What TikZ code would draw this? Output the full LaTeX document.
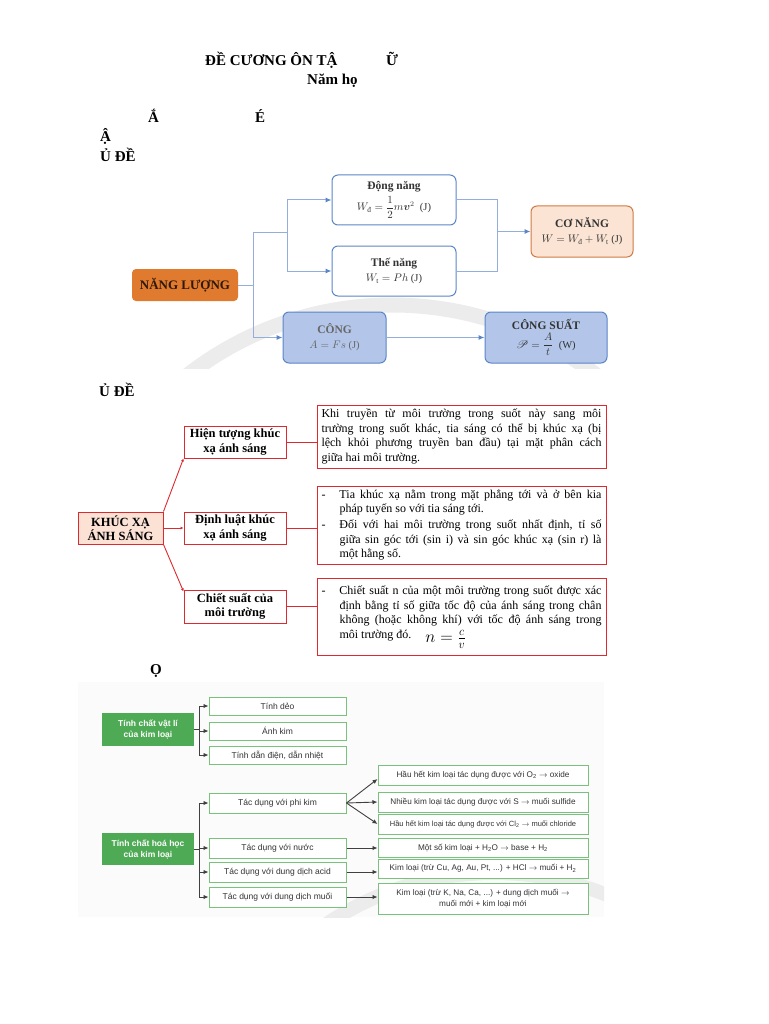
\documentclass[tikz,border=0pt]{standalone}
\usepackage{fontspec}
\setmainfont{Liberation Serif}
\newfontfamily\sansf{Liberation Sans}
\usepackage{amsmath}
\usepackage{mathrsfs}
\usetikzlibrary{arrows.meta}
\definecolor{orgA}{HTML}{E07A2E}
\definecolor{orgB}{HTML}{D27A42}
\definecolor{orgL}{HTML}{FBE4D4}
\definecolor{blB}{HTML}{5A86C8}
\definecolor{blLine}{HTML}{94ADDB}
\definecolor{blF}{HTML}{B3C5E8}
\definecolor{redB}{HTML}{DD2A2F}
\definecolor{pinkF}{HTML}{FBE2D5}
\definecolor{grF}{HTML}{4EAA55}
\definecolor{grB}{HTML}{79C27C}
\definecolor{wm}{HTML}{ECECEC}
\definecolor{txt}{HTML}{333333}
\newcommand\fsz[2]{\fontsize{#1}{#2}\selectfont}
\newcommand\tbset{\hyphenpenalty=10000\exhyphenpenalty=10000\tolerance=10000\emergencystretch=5pt}
\newcommand\bul[1]{\noindent\makebox[18pt][l]{-}\parbox[t]{262pt}{\tbset\strut #1\strut}}
\begin{document}
\begin{tikzpicture}[x=1pt,y=-1pt,
  hdr/.style={inner sep=0pt, anchor=base west, font=\fsz{15}{18}\bfseries},
  nlbox/.style={fill=orgA, rounded corners=4pt, minimum width=106pt, minimum height=32pt, inner sep=0pt, font=\fsz{13}{15}\bfseries, text=black!80!orgA},
  wbox/.style={draw=blB, line width=1pt, fill=white, rounded corners=6pt, minimum width=124pt, minimum height=50pt, align=center, inner sep=1pt, text=txt},
  obox/.style={draw=orgB, line width=1pt, fill=orgL, rounded corners=6pt, minimum width=102pt, minimum height=51pt, align=center, inner sep=1pt, text=txt},
  bbox/.style={draw=blB, line width=1pt, fill=blF, rounded corners=6pt, minimum height=51pt, align=center, inner sep=1pt},
  bline/.style={draw=blLine, line width=1pt},
  barrow/.style={draw=blLine, line width=1pt, -{Latex[length=6pt,width=5pt,color=blB]}},
  rbox/.style={draw=redB, line width=1pt, fill=white, minimum width=102pt, minimum height=32pt, align=center, inner sep=1pt, font=\fsz{12.5}{14.5}\bfseries},
  tbox/.style={draw=redB, line width=1pt, fill=white, text width=280pt, inner xsep=4.5pt, inner ysep=2pt, align=justify, font=\fsz{12}{14.6}},
  rline/.style={draw=redB, line width=0.9pt},
  rarrow/.style={draw=redB, line width=0.9pt, -{Latex[length=3pt,width=3pt]}},
  gfill/.style={fill=grF, minimum width=92pt, minimum height=33pt, align=center, inner sep=0pt, text=white, font=\sansf\fsz{8.5}{11}\bfseries},
  gbox/.style={draw=grB, line width=1pt, fill=white, minimum width=137pt, minimum height=19pt, inner sep=0pt, align=center, text=txt, font=\sansf\fsz{8.5}{10}},
  gbox2/.style={draw=grB, line width=1pt, fill=white, minimum width=210pt, minimum height=20pt, inner sep=0pt, align=center, text=txt, font=\sansf\fsz{8.2}{11}},
  gline/.style={draw=black!75, line width=0.9pt},
  garrow/.style={draw=black!75, line width=0.9pt, -{Latex[length=5pt,width=4.5pt]}}
]
\useasboundingbox (0,0) rectangle (768,1024);
\fill[white] (0,0) rectangle (768,1024);

% ---------- headings ----------
\node[hdr] (h1) at (205,66) {ĐỀ CƯƠNG ÔN TẬ};
\node[hdr] (h2) at (386,66) {Ữ};
\node[hdr] (h3) at (307,85) {Năm họ};
\node[hdr] (h4) at (148,123) {Ắ};
\node[hdr] (h5) at (255,123) {É};
\node[hdr] (h6) at (100,142) {Ậ};
\node[hdr] (h7) at (100,162) {Ủ ĐỀ};
\node[hdr] (h8) at (99,396) {Ủ ĐỀ};
\node[hdr] (h9) at (150,674) {Ọ};

% ---------- section 1 ----------
\begin{scope}
  \clip (120,168) rectangle (640,368);
  \draw[wm, line width=15pt] (392,638) circle[radius=333pt];
\end{scope}

\node[nlbox] (nl) at (185,285) {NĂNG LƯỢNG};
\node[wbox] (dn) at (394,200) {{\fsz{11.5}{13}\bfseries Động năng}\\[3pt]{\fsz{10.5}{12}$W_{\text{đ}}=\dfrac{1}{2}m\boldsymbol{v}^2$ \ (J)}};
\node[wbox] (tn) at (394,271) {{\fsz{11.5}{13}\bfseries Thế năng}\\[3pt]{\fsz{10.5}{12}$W_{\text{t}}=Ph$ (J)}};
\node[obox] (cn) at (582,231.5) {{\fsz{11.5}{13}\bfseries CƠ NĂNG}\\[3pt]{\fsz{10.5}{12}$W=W_{\text{đ}}+W_{\text{t}}$ (J)}};
\node[bbox, minimum width=103pt, text=black!60] (cong) at (334.5,337.5) {{\fsz{11.5}{13}\bfseries CÔNG}\\[3pt]{\fsz{10.5}{12}$A=Fs$ (J)}};
\node[bbox, minimum width=122pt, text=txt] (cs) at (546,337.5) {{\fsz{11.5}{13}\bfseries CÔNG SUẤT}\\[3pt]{\fsz{10.5}{12}$\mathscr{P}=\dfrac{A}{t}$ \ (W)}};

\coordinate (ja) at (253,233);
\coordinate (jb) at (253,337.5);
\coordinate (jc) at (287,233);
\coordinate (jd) at (497,231.5);
\draw[bline] (nl.east) -- (nl.east -| ja);
\draw[bline] (ja) -- (jb);
\draw[bline] (ja) -- (jc);
\draw[barrow] (jc) |- (dn.west);
\draw[barrow] (jc) |- (tn.west);
\draw[barrow] (jb) -- (cong.west);
\draw[bline] (dn.east) -| (jd);
\draw[bline] (tn.east) -| (jd);
\draw[barrow] (jd) -- (cn.west);
\draw[barrow] (cong.east) -- (cs.west);

% ---------- section 2 ----------
\node[rbox, minimum width=85pt, fill=pinkF] (kx) at (120.5,528) {KHÚC XẠ\\ÁNH SÁNG};
\node[rbox] (ht) at (235,442) {Hiện tượng khúc\\xạ ánh sáng};
\node[rbox] (dl) at (235,528) {Định luật khúc\\xạ ánh sáng};
\node[rbox, minimum height=33pt] (cs2) at (235,606.5) {Chiết suất của\\môi trường};

\node[tbox, minimum height=63pt] (tb1) at (461.5,436.5) {\tbset Khi truyền từ môi trường trong suốt này sang môi\linebreak trường trong suốt khác, tia sáng có thể bị khúc xạ (bị\linebreak lệch khỏi phương truyền ban đầu) tại mặt phân cách\linebreak giữa hai môi trường.};
\node[tbox, minimum height=76pt] (tb2) at (461.5,525) {\bul{Tia khúc xạ nằm trong mặt phẳng tới và ở bên kia\linebreak pháp tuyến so với tia sáng tới.}\par
\bul{Đối với hai môi trường trong suốt nhất định, tỉ số\linebreak giữa sin góc tới (sin i) và sin góc khúc xạ (sin r) là\linebreak một hằng số.}};
\node[tbox, minimum height=77pt] (tb3) at (461.5,616.5) {\bul{Chiết suất n của một môi trường trong suốt được xác\linebreak định bằng tỉ số giữa tốc độ của ánh sáng trong chân\linebreak không (hoặc không khí) với tốc độ ánh sáng trong\linebreak môi trường đó.\hspace{14pt}\raisebox{-4pt}{\fsz{17}{17}$n=\frac{c}{v}$}}\par\vspace{9pt}};

\draw[rarrow] (kx.north east) -- (ht.south west);
\draw[rarrow] (kx.east) -- (dl.west);
\draw[rarrow] (kx.south east) -- ([yshift=-2pt]cs2.north west);
\draw[rline] (ht.east) -- (ht.east -| tb1.west);
\draw[rline] (dl.east) -- (dl.east -| tb2.west);
\draw[rline] (cs2.east) -- (cs2.east -| tb3.west);

% ---------- section 3 ----------
\fill[black!1.5] (78,682) rectangle (604,917);
\begin{scope}
  \clip (78,682) rectangle (604,917);
  \draw[wm, line width=14pt] (494,1173) circle[radius=300pt];
\end{scope}

\node[gfill] (vl) at (148,729.5) {Tính chất vật lí\\của kim loại};
\node[gfill, minimum height=32pt] (hh) at (148,849) {Tính chất hoá học\\của kim loại};

\node[gbox, minimum height=18pt] (deo) at (277.5,706) {Tính dẻo};
\node[gbox, minimum height=18pt] (ak) at (277.5,731) {Ánh kim};
\node[gbox, minimum height=18pt] (dan) at (277.5,755) {Tính dẫn điện, dẫn nhiệt};
\node[gbox, minimum height=20pt] (pk) at (277.5,803) {Tác dụng với phi kim};
\node[gbox, minimum height=20pt] (nuoc) at (277.5,848) {Tác dụng với nước};
\node[gbox, minimum height=20pt] (acid) at (277.5,872) {Tác dụng với dung dịch acid};
\node[gbox, minimum height=20pt] (muoi) at (277.5,897) {Tác dụng với dung dịch muối};

\node[gbox2] (ra) at (483,775) {Hầu hết kim loại tác dụng được với O\textsubscript{2} $\rightarrow$ oxide};
\node[gbox2] (rb) at (483,802) {Nhiều kim loại tác dụng được với S $\rightarrow$ muối sulfide};
\node[gbox2, font=\sansf\fsz{7.5}{10}] (rc) at (483,824) {Hầu hết kim loại tác dụng được với Cl\textsubscript{2} $\rightarrow$ muối chloride};
\node[gbox2, minimum height=19pt] (rd) at (483,847.5) {Một số kim loại + H\textsubscript{2}O $\rightarrow$ base + H\textsubscript{2}};
\node[gbox2, minimum height=19pt] (re) at (483,868.5) {Kim loại (trừ Cu, Ag, Au, Pt, ...) + HCl $\rightarrow$ muối + H\textsubscript{2}};
\node[gbox2, minimum height=31pt] (rf) at (483,898.5) {Kim loại (trừ K, Na, Ca, ...) + dung dịch muối $\rightarrow$\\muối mới + kim loại mới};

\coordinate (va) at (199,0);
\draw[gline] (vl.east) -- (vl.east -| va);
\draw[gline] (deo.west -| va) -- (dan.west -| va);
\draw[garrow] (deo.west -| va) -- (deo.west);
\draw[garrow] (ak.west -| va) -- (ak.west);
\draw[garrow] (dan.west -| va) -- (dan.west);

\draw[gline] (hh.east) -- (hh.east -| va);
\draw[gline] (pk.west -| va) -- (muoi.west -| va);
\draw[garrow] (pk.west -| va) -- (pk.west);
\draw[garrow] (nuoc.west -| va) -- (nuoc.west);
\draw[garrow] (acid.west -| va) -- (acid.west);
\draw[garrow] (muoi.west -| va) -- (muoi.west);

\draw[garrow] (pk.east) -- ([yshift=-4pt]ra.west);
\draw[garrow] (pk.east) -- (rb.west);
\draw[garrow] (pk.east) -- (rc.west);
\draw[garrow] (nuoc.east) -- (nuoc.east -| rd.west);
\draw[garrow] (acid.east) -- (acid.east -| re.west);
\draw[garrow] (muoi.east) -- (muoi.east -| rf.west);
\end{tikzpicture}
\end{document}
